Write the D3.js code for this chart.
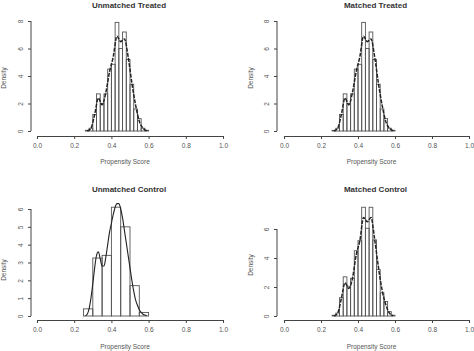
<!DOCTYPE html>
<html>
<head>
<meta charset="utf-8">
<script src="https://cdn.jsdelivr.net/npm/d3@7"></script>
<style>
  body { margin: 0; background: #fff; }
  svg { display: block; font-family: "Liberation Sans", Arial, sans-serif; }
  .axis text { fill: #555; font-size: 6.5px; }
  .axis path, .axis line { stroke: #444; }
</style>
</head>
<body>
<div id="chart"></div>
<script>
// bin left edges
const fineBins = [0.26, 0.28, 0.30, 0.32, 0.34, 0.36, 0.38, 0.40, 0.42, 0.44, 0.46, 0.48, 0.50, 0.52, 0.54, 0.56, 0.58]
const coarseBins = [0.25, 0.30, 0.35, 0.40, 0.45, 0.50, 0.55]

// histogram densities
const treatedHist = [0.05, 0.2, 1.2, 2.7, 2.0, 2.7, 4.5, 4.85, 7.9, 6.0, 7.2, 5.2, 3.4, 1.6, 0.9, 0.2, 0.05]
const unmatchedControlHist = [0.4, 3.25, 3.4, 6.1, 5.0, 1.7, 0.2]
const matchedControlHist = [0.05, 0.2, 1.26, 2.7, 2.05, 2.6, 4.5, 5.2, 7.5, 6.05, 7.5, 5.25, 3.2, 1.6, 1.0, 0.3, 0.05]

// kernel density curves
const treatedDensX = [0.27, 0.29, 0.31, 0.33, 0.35, 0.37, 0.39, 0.41, 0.43, 0.45, 0.47, 0.49, 0.51, 0.53, 0.55, 0.57, 0.59]
const treatedDensY = [0.0, 0.2, 1.2, 2.4, 1.9, 2.8, 4.3, 5.4, 6.9, 6.5, 6.7, 5.4, 3.5, 1.9, 0.7, 0.2, 0.02]
const unmatchedControlDensX = [0.26, 0.27, 0.28, 0.29, 0.30, 0.31, 0.32, 0.33, 0.34, 0.35, 0.36, 0.37, 0.38, 0.39, 0.40, 0.41, 0.42, 0.43, 0.44, 0.45, 0.46, 0.47, 0.48, 0.49, 0.50, 0.51, 0.52, 0.53, 0.54, 0.55, 0.56, 0.57, 0.58, 0.59]
const unmatchedControlDensY = [0.02, 0.1, 0.4, 1.0, 1.8, 2.7, 3.4, 3.6, 3.2, 2.8, 2.8, 3.3, 4.0, 4.7, 5.2, 5.7, 6.1, 6.3, 6.3, 6.0, 5.5, 4.8, 4.1, 3.4, 2.7, 2.0, 1.4, 0.9, 0.6, 0.35, 0.2, 0.1, 0.05, 0.02]
const matchedControlDensX = treatedDensX
const matchedControlDensY = [0.0, 0.2, 1.2, 2.3, 1.9, 2.6, 4.2, 5.2, 6.8, 6.5, 6.8, 5.3, 3.4, 1.8, 0.8, 0.2, 0.02]

const xTicks = [0, 0.2, 0.4, 0.6, 0.8, 1.0]

const panels = [
  {title: 'Unmatched Treated', bins: fineBins, bw: 0.02, hist: treatedHist, dx: treatedDensX, dy: treatedDensY,
   yTicks: [0, 2, 4, 6, 8], yMax: 8, dashed: true,
   x0: 37, x1: 223, yAxisX: 31, xAxisY: 136, yBottom: 131, yTop: 21, titleY: 8, labX: 4, labY: 78, tickLabY: 148, xLabY: 164},
  {title: 'Matched Treated', bins: fineBins, bw: 0.02, hist: treatedHist, dx: treatedDensX, dy: treatedDensY,
   yTicks: [0, 2, 4, 6, 8], yMax: 8, dashed: true,
   x0: 284, x1: 469, yAxisX: 277, xAxisY: 136, yBottom: 131, yTop: 21, titleY: 8, labX: 251, labY: 78, tickLabY: 148, xLabY: 164},
  {title: 'Unmatched Control', bins: coarseBins, bw: 0.05, hist: unmatchedControlHist, dx: unmatchedControlDensX, dy: unmatchedControlDensY,
   yTicks: [0, 1, 2, 3, 4, 5, 6], yMax: 6, dashed: false,
   x0: 37, x1: 223, yAxisX: 31, xAxisY: 320, yBottom: 316, yTop: 209, titleY: 192, labX: 4, labY: 270, tickLabY: 332, xLabY: 349},
  {title: 'Matched Control', bins: fineBins, bw: 0.02, hist: matchedControlHist, dx: matchedControlDensX, dy: matchedControlDensY,
   yTicks: [0, 2, 4, 6], yMax: 6, dashed: true,
   x0: 284, x1: 469, yAxisX: 277, xAxisY: 320, yBottom: 316, yTop: 229, titleY: 192, labX: 251, labY: 265, tickLabY: 332, xLabY: 349}
]

const svg = d3.select('#chart').append('svg')
  .attr('width', 474)
  .attr('height', 351)

for (let p of panels) {
  let x = d3.scaleLinear().domain([0, 1]).range([p.x0, p.x1])
  let y = d3.scaleLinear().domain([0, p.yMax]).range([p.yBottom, p.yTop])
  let g = svg.append('g')

  // bars
  g.selectAll('rect')
    .data(p.bins.map((b, i) => ({b: b, v: p.hist[i]})))
    .join('rect')
    .attr('x', d => x(d.b))
    .attr('width', d => x(d.b + p.bw) - x(d.b))
    .attr('y', d => y(d.v))
    .attr('height', d => y(0) - y(d.v))
    .attr('fill', 'none')
    .attr('stroke', '#555')
    .attr('stroke-width', 0.9)

  // density line
  let line = d3.line()
    .x(d => x(d[0]))
    .y(d => y(d[1]))
    .curve(d3.curveMonotoneX)
  g.append('path')
    .datum(p.dx.map((v, i) => [v, p.dy[i]]))
    .attr('d', line)
    .attr('fill', 'none')
    .attr('stroke', '#222')
    .attr('stroke-width', p.dashed ? 1.5 : 1.1)
    .attr('stroke-dasharray', p.dashed ? '4,1.2' : null)

  // x axis
  let xAxis = g.append('g')
    .attr('class', 'axis')
    .attr('transform', 'translate(0,' + p.xAxisY + ')')
    .call(d3.axisBottom(x).tickValues(xTicks).tickFormat(d3.format('.1f')).tickSizeOuter(0).tickSize(3))
  xAxis.selectAll('text').attr('y', 0).attr('dy', null)
    .attr('transform', 'translate(0,' + (p.tickLabY - p.xAxisY) + ')')

  // y axis, line only spans the tick range
  let yAxis = g.append('g')
    .attr('class', 'axis')
    .attr('transform', 'translate(' + p.yAxisX + ',0)')
    .call(d3.axisLeft(y).tickValues(p.yTicks).tickFormat(d3.format('d')).tickSizeOuter(0).tickSize(3))
  yAxis.select('.domain').attr('d', 'M0,' + y(0) + 'V' + y(d3.max(p.yTicks)))
  yAxis.selectAll('.tick text')
    .attr('x', null).attr('dy', null)
    .attr('text-anchor', 'middle')
    .attr('transform', 'translate(-8,0) rotate(-90)')

  // labels
  g.append('text')
    .text(p.title)
    .attr('x', (p.x0 + p.x1) / 2 - 1)
    .attr('y', p.titleY)
    .attr('text-anchor', 'middle')
    .style('font-weight', 'bold')
    .style('font-size', '8px')
    .style('fill', '#333')

  g.append('text')
    .text('Propensity Score')
    .attr('x', (p.x0 + p.x1) / 2 - 5)
    .attr('y', p.xLabY)
    .attr('text-anchor', 'middle')
    .style('font-size', '6.5px')
    .style('fill', '#555')

  g.append('text')
    .text('Density')
    .attr('transform', 'translate(' + (p.labX + 2) + ',' + p.labY + ') rotate(-90)')
    .attr('text-anchor', 'middle')
    .style('font-size', '6.5px')
    .style('fill', '#555')
}
</script>
</body>
</html>
